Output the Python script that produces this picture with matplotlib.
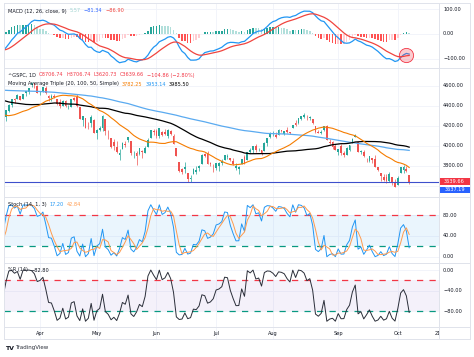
import numpy as np
import pandas as pd
import matplotlib
matplotlib.use("Agg")
import matplotlib.pyplot as plt
import matplotlib.transforms as mtransforms
from matplotlib.lines import Line2D
from matplotlib.patches import Rectangle

# ---- data: S&P 500 (^GSPC) daily ----
# warm-up closes, Oct 20 2021 .. Feb 18 2022 (only feed the moving averages / MACD)
pre_close = [
    4536.19, 4549.78, 4544.90, 4566.48, 4574.79, 4551.68, 4596.42, 4605.38,
    4613.67, 4630.65, 4660.57, 4680.06, 4697.53, 4701.70, 4685.25, 4646.71, 4649.27, 4682.85,
    4682.80, 4700.90, 4688.67, 4704.54, 4697.96, 4682.94, 4690.70, 4701.46, 4594.62, 4655.27, 4567.00,
    4513.04, 4577.10, 4538.43, 4591.67, 4686.75, 4701.21, 4667.45, 4712.02, 4668.97, 4634.09, 4709.85,
    4668.67, 4620.64, 4568.02, 4649.23, 4696.56, 4725.79, 4791.19, 4786.35, 4793.06, 4778.73, 4766.18,
    4796.56, 4793.54, 4700.58, 4696.05, 4677.03, 4670.29, 4713.07, 4726.35, 4659.03, 4662.85,
    4577.11, 4532.76, 4482.73, 4397.94, 4410.13, 4356.45, 4349.93, 4326.51, 4431.85, 4515.55,
    4546.54, 4589.38, 4477.44, 4500.53, 4483.87, 4521.54, 4587.18, 4504.08, 4418.64, 4401.67,
    4471.07, 4475.01, 4380.26, 4348.87,
]

# OHLC, Feb 22 2022 .. Oct 7 2022
opens = [
    4332.74, 4324.93, 4155.77, 4298.38, 4354.17,
    4363.14, 4322.56, 4401.31, 4342.12, 4327.01, 4202.66, 4223.10, 4252.55, 4279.50, 4202.75, 4188.82,
    4288.14, 4345.11, 4407.34, 4462.40, 4469.10, 4493.10, 4469.98, 4522.66, 4541.09, 4602.86, 4624.20, 4599.02,
    4540.32, 4547.97, 4572.45, 4494.17, 4474.65, 4494.15, 4462.64, 4437.59, 4394.30, 4449.12,
    4385.63, 4390.63, 4472.26, 4489.17, 4385.83, 4255.34, 4278.14, 4186.52, 4222.58, 4253.75,
    4130.61, 4159.78, 4181.18, 4270.43, 4128.17, 4081.27, 4035.18, 3990.08, 3903.95, 3963.90, 4013.02,
    4052.00, 4051.98, 3899.00, 3927.76, 3919.42, 3942.94, 3929.59, 3984.60, 4077.43, 4151.09,
    4149.78, 4095.41, 4137.57, 4134.72, 4096.47, 4147.12, 4101.65, 3974.39, 3838.15, 3763.52, 3764.05,
    3728.18, 3665.90, 3715.31, 3733.89, 3774.71, 3821.75, 3920.76, 3913.00, 3825.09, 3785.99,
    3781.00, 3792.61, 3831.98, 3858.85, 3888.26, 3880.94, 3851.95, 3779.67, 3763.99, 3818.00,
    3883.79, 3860.73, 3935.32, 3955.47, 3998.43, 3965.72, 3953.22, 3951.43, 4026.13, 4087.33,
    4112.38, 4104.21, 4107.96, 4154.85, 4115.87, 4155.93, 4133.11, 4181.02, 4227.40, 4225.02, 4269.37,
    4290.46, 4280.40, 4273.13, 4266.31, 4195.08, 4133.09, 4126.55, 4153.26, 4198.74, 4034.58, 4041.25, 4000.67,
    3936.73, 3994.66, 3930.89, 3909.43, 3959.94, 4022.94, 4083.67, 4037.12, 3940.73, 3932.41, 3880.95,
    3849.91, 3875.23, 3871.40, 3782.36, 3727.14, 3682.72, 3686.44, 3651.94, 3687.01, 3633.48,
    3609.78, 3726.46, 3753.25, 3771.97, 3706.74,
]
highs = [
    4362.12, 4341.51, 4294.73, 4385.34, 4388.84,
    4378.45, 4401.48, 4416.78, 4342.12, 4327.01, 4276.94, 4299.40, 4268.28, 4291.01, 4247.57, 4271.05,
    4358.90, 4412.67, 4465.40, 4481.75, 4522.00, 4501.07, 4520.58, 4546.03, 4575.65, 4637.30, 4627.77, 4603.07,
    4548.70, 4583.50, 4593.45, 4503.94, 4521.16, 4520.41, 4464.35, 4471.00, 4453.92, 4460.46,
    4410.31, 4471.03, 4488.29, 4512.94, 4385.83, 4299.02, 4278.14, 4240.71, 4308.45, 4269.68,
    4169.81, 4200.10, 4307.66, 4270.43, 4157.69, 4081.27, 4068.82, 4049.09, 3964.80, 4038.88, 4046.46,
    4090.72, 4051.98, 3945.96, 3943.42, 3981.88, 3955.68, 3999.33, 4075.14, 4158.49, 4168.34,
    4166.54, 4177.51, 4142.67, 4168.78, 4164.86, 4160.14, 4119.10, 3974.39, 3838.15, 3778.18, 3837.56,
    3728.18, 3707.71, 3779.65, 3801.79, 3802.58, 3913.65, 3927.72, 3945.86, 3836.50, 3818.99,
    3829.82, 3832.19, 3870.91, 3910.63, 3918.50, 3880.94, 3873.41, 3829.44, 3796.41, 3863.62,
    3902.44, 3939.81, 3974.13, 3999.29, 4012.44, 3975.30, 3953.22, 4039.56, 4078.95, 4140.15,
    4144.95, 4140.47, 4167.66, 4161.29, 4151.58, 4186.62, 4137.30, 4211.03, 4257.91, 4280.47, 4301.79,
    4325.28, 4302.18, 4292.53, 4266.31, 4195.08, 4159.77, 4156.56, 4200.54, 4203.04, 4062.99, 4044.98, 4015.37,
    3970.23, 4018.43, 3942.55, 3987.89, 4010.50, 4076.81, 4119.28, 4037.12, 3961.94, 3959.14, 3880.95,
    3900.45, 3876.01, 3907.07, 3790.68, 3727.14, 3715.67, 3717.53, 3736.74, 3687.01, 3671.44,
    3698.35, 3791.92, 3806.91, 3797.93, 3706.74,
]
lows = [
    4267.11, 4221.51, 4114.65, 4286.83, 4315.12,
    4279.54, 4322.56, 4345.56, 4284.98, 4199.85, 4157.87, 4223.10, 4209.80, 4200.49, 4161.72, 4187.90,
    4251.99, 4335.65, 4390.57, 4424.30, 4469.10, 4455.81, 4465.17, 4501.07, 4517.69, 4589.66, 4581.32, 4530.41,
    4507.57, 4539.21, 4514.17, 4450.04, 4450.30, 4474.60, 4408.38, 4381.34, 4392.70, 4390.77,
    4370.30, 4390.63, 4448.76, 4384.47, 4267.62, 4200.82, 4175.04, 4162.90, 4188.63, 4124.28,
    4062.51, 4147.08, 4148.91, 4106.01, 4067.91, 3975.48, 3958.17, 3928.82, 3858.87, 3963.90, 3983.99,
    4033.93, 3911.91, 3876.58, 3810.32, 3909.04, 3875.13, 3925.03, 3984.60, 4077.43, 4104.88,
    4073.85, 4074.37, 4098.67, 4109.18, 4080.19, 4107.20, 4017.17, 3900.16, 3734.30, 3715.31, 3722.30,
    3639.77, 3636.87, 3715.31, 3717.69, 3743.52, 3821.75, 3889.66, 3820.14, 3799.02, 3738.67,
    3752.10, 3742.06, 3809.37, 3858.85, 3869.34, 3847.22, 3802.36, 3759.07, 3721.56, 3817.18,
    3818.63, 3860.73, 3922.03, 3927.64, 3938.85, 3943.46, 3910.74, 3951.43, 3992.97, 4079.22,
    4096.02, 4079.81, 4107.96, 4135.42, 4107.31, 4128.97, 4112.09, 4177.26, 4201.41, 4219.78, 4256.90,
    4277.77, 4253.08, 4261.98, 4218.70, 4129.86, 4124.03, 4119.97, 4147.59, 4057.66, 4017.42, 3965.21, 3954.53,
    3903.65, 3906.21, 3886.75, 3906.03, 3944.81, 4022.94, 4083.67, 3932.41, 3912.77, 3888.28, 3837.08,
    3838.50, 3827.54, 3789.49, 3749.14, 3647.47, 3644.76, 3623.29, 3640.61, 3610.40, 3584.13,
    3604.93, 3726.46, 3722.66, 3739.22, 3620.73,
]
closes = [
    4304.76, 4225.50, 4288.70, 4384.65, 4373.94,
    4306.26, 4386.54, 4363.49, 4328.87, 4201.09, 4170.70, 4277.88, 4259.52, 4204.31, 4173.11, 4262.45,
    4357.86, 4411.67, 4463.12, 4461.18, 4511.61, 4456.24, 4520.16, 4543.06, 4575.52, 4631.60, 4602.45, 4530.41,
    4545.86, 4582.64, 4525.12, 4481.15, 4500.21, 4488.28, 4412.53, 4397.45, 4446.59, 4392.59,
    4391.69, 4462.21, 4459.45, 4393.66, 4271.78, 4296.12, 4175.20, 4183.96, 4287.50, 4131.93,
    4155.38, 4175.48, 4300.17, 4146.87, 4123.34, 3991.24, 4001.05, 3935.18, 3930.08, 4023.89, 4008.01,
    4088.85, 3923.68, 3900.79, 3901.36, 3973.75, 3941.48, 3978.73, 4057.84, 4158.24, 4132.15,
    4101.23, 4176.82, 4108.54, 4121.43, 4160.68, 4115.77, 4017.82, 3900.86, 3749.63, 3735.48, 3789.99,
    3666.77, 3674.84, 3764.79, 3759.89, 3795.73, 3911.74, 3900.11, 3821.55, 3818.83, 3785.38,
    3825.33, 3831.39, 3845.08, 3902.62, 3899.38, 3854.43, 3818.80, 3801.78, 3790.38, 3863.16,
    3830.85, 3936.69, 3959.90, 3998.95, 3961.63, 3966.84, 3921.05, 4023.61, 4072.43, 4130.29,
    4118.63, 4091.19, 4155.17, 4151.94, 4145.19, 4140.06, 4122.47, 4210.24, 4207.27, 4280.15, 4297.14,
    4305.20, 4274.04, 4283.74, 4228.48, 4137.99, 4128.73, 4140.77, 4199.12, 4057.66, 4030.61, 3986.16, 3955.00,
    3966.85, 3924.26, 3908.19, 3979.87, 4006.18, 4067.36, 4110.41, 3932.69, 3946.01, 3901.35, 3873.33,
    3899.89, 3855.93, 3789.93, 3757.99, 3693.23, 3655.04, 3647.29, 3719.04, 3640.47, 3585.62,
    3678.43, 3790.93, 3783.28, 3744.52, 3639.66,
]
holidays = ["2022-04-15", "2022-05-30", "2022-06-20", "2022-07-04", "2022-09-05"]
dates = pd.bdate_range("2022-02-22", "2022-10-07", freq="C", holidays=holidays)
hline_level = 3637.19
n_show = 144
month_names = ["Apr", "May", "Jun", "Jul", "Aug", "Sep", "Oct", "21"]

# ---- indicators ----
c_all = pd.Series(pre_close + closes)
ma20 = c_all.rolling(20).mean().values[-n_show:]
ma50 = c_all.rolling(50).mean().values[-n_show:]
ma100 = c_all.rolling(100).mean().values[-n_show:]
ema12 = c_all.ewm(span=12, adjust=False).mean()
ema26 = c_all.ewm(span=26, adjust=False).mean()
macd_all = ema12 - ema26
sig_all = macd_all.ewm(span=9, adjust=False).mean()
macd = macd_all.values[-n_show:]
sig = sig_all.values[-n_show:]
hist = (macd_all - sig_all).values[-n_show - 1:]

hi, lo, cl = pd.Series(highs), pd.Series(lows), pd.Series(closes)
hh, ll = hi.rolling(14).max(), lo.rolling(14).min()
k_all = 100 * (cl - ll) / (hh - ll)
stk = k_all.values[-n_show:]
std = k_all.rolling(3).mean().values[-n_show:]
wr = (100 * (cl - hh) / (hh - ll)).values[-n_show:]

o = np.array(opens[-n_show:]); h = np.array(highs[-n_show:])
l = np.array(lows[-n_show:]); c = np.array(closes[-n_show:])
d = dates[-n_show:]
x = np.arange(n_show)
month_idx = [int(np.argmax((d.month == m) & (d.day <= 7))) for m in range(4, 11)]
month_idx.append(n_show - 1 + len(pd.bdate_range("2022-10-10", "2022-10-21")))

# ---- style ----
W, H = 474, 357
FS = 3.6
TXT = "#131722"
GRID = "#f0f3fa"
SEP = "#e0e3eb"
UP, DOWN = "#26a69a", "#ef5350"
RED, GREEN = "#f23645", "#089981"
BLUE = "#2196f3"
PL, PR, FR = 4, 439, 470
XL = (0.3, 153.5)

fig = plt.figure(figsize=(W / 100, H / 100), dpi=100)
fig.patch.set_facecolor("white")


def add_panel(top, bottom, ylim):
    ax = fig.add_axes([PL / W, 1 - bottom / H, (PR - PL) / W, (bottom - top) / H])
    ax.set_xlim(XL)
    ax.set_ylim(ylim)
    ax.set_xticks([])
    ax.set_yticks([])
    for s in ax.spines.values():
        s.set_visible(False)
    ax.set_facecolor("none")
    for mi in month_idx[:-1]:
        ax.axvline(mi, color=GRID, lw=0.6, zorder=0)
    return ax


def fmt(v):
    return f"{v:.2f}".replace("-", "\u2212")


def right_labels(ax, vals, shown=None):
    tr = mtransforms.blended_transform_factory(ax.transAxes, ax.transData)
    for v in vals:
        ax.axhline(v, color=GRID, lw=0.6, zorder=0)
        if shown is None or v in shown:
            ax.text(1 + 4 / (PR - PL), v, fmt(v), transform=tr, fontsize=FS,
                    color=TXT, va="center", ha="left", clip_on=False)


ax_macd = add_panel(3, 68, (-137.7, 125.5))
ax_p = add_panel(68, 197, (3487, 4777))
ax_s = add_panel(197, 263, (-12.1, 114.8))
ax_w = add_panel(263, 327, (-111.2, 13.7))
ax_x = add_panel(327, 339, (0, 1))

# MACD
right_labels(ax_macd, [100, 0, -100])
hcols = []
for i in range(1, len(hist)):
    if hist[i] >= 0:
        hcols.append("#26a69a" if hist[i] > hist[i - 1] else "#b2dfdb")
    else:
        hcols.append("#ffcdd2" if hist[i] > hist[i - 1] else "#ff5252")
ax_macd.bar(x, hist[1:], width=0.55, color=hcols, zorder=2)
ax_macd.plot(x, macd, color=BLUE, lw=0.9, zorder=3)
ax_macd.plot(x, sig, color="#f0443e", lw=0.9, zorder=3)
ax_macd.scatter([x[-2]], [(macd[-2] + sig[-2]) / 2], s=105, facecolor=(0.95, 0.21, 0.27, 0.25),
                edgecolor=RED, lw=0.6, zorder=4)

# price
right_labels(ax_p, [3600, 3800, 4000, 4200, 4400, 4600], shown=[3800, 4000, 4200, 4400, 4600])
cols = np.where(c >= o, UP, DOWN)
ax_p.vlines(x, l, h, colors=cols, lw=0.5, zorder=3)
ax_p.bar(x, np.maximum(np.abs(c - o), 2.0), bottom=np.minimum(o, c), width=0.62, color=cols, zorder=3)
ax_p.plot(x, ma100, color="#5aaaf0", lw=0.9, zorder=4)
ax_p.plot(x, ma50, color="#000000", lw=0.9, zorder=4)
ax_p.plot(x, ma20, color="#f57c00", lw=0.8, zorder=4)
ax_p.axhline(hline_level, color="#3d4fcc", lw=0.8, zorder=4)

# stochastic
right_labels(ax_s, [80, 40, 0])
ax_s.axhspan(20, 80, color="#2196f3", alpha=0.09, lw=0, zorder=1)
ax_s.axhline(80, color=RED, lw=0.9, ls=(0, (5, 5)), zorder=2)
ax_s.axhline(20, color=GREEN, lw=0.9, ls=(0, (5, 5)), zorder=2)
ax_s.plot(x, stk, color=BLUE, lw=0.7, zorder=3)
ax_s.plot(x, std, color="#ff9a4d", lw=0.7, zorder=3)

# williams %R
right_labels(ax_w, [0, -40, -80])
ax_w.axhspan(-80, -20, color="#7e57c2", alpha=0.08, lw=0, zorder=1)
ax_w.axhline(-20, color=RED, lw=0.9, ls=(0, (5, 5)), zorder=2)
ax_w.axhline(-80, color=GREEN, lw=0.9, ls=(0, (5, 5)), zorder=2)
ax_w.plot(x, wr, color="#2a2e39", lw=0.7, zorder=3)

# x axis strip
for mi, name in zip(month_idx, month_names):
    ax_x.text(mi, 0.45, name, fontsize=FS, color=TXT, ha="center", va="center", clip_on=True)

# frame and separators
def fline(x0, y0, x1, y1):
    fig.add_artist(Line2D([x0 / W, x1 / W], [1 - y0 / H, 1 - y1 / H], color=SEP, lw=0.7))


fline(PL, 3, FR, 3)
fline(PL, 339, FR, 339)
fline(PL, 3, PL, 339)
fline(FR, 3, FR, 339)
fline(PR, 3, PR, 339)
for yy in (68, 197, 263, 327):
    fline(PL, yy, FR, yy)

# price tags on the right scale
def price_tag(ax, value, dy_px, fc, label):
    yd = ax.transData.transform((0, value))[1] - dy_px
    fig.add_artist(Rectangle((PR / W, (yd - 3.3) / H), (FR - PR) / W, 6.6 / H,
                             transform=fig.transFigure, fc=fc, ec="none"))
    fig.text((PR + FR) / 2 / W, yd / H, label, color="white", fontsize=FS,
             ha="center", va="center")


price_tag(ax_p, c[-1], 0, RED, fmt(c[-1]))
price_tag(ax_p, hline_level, 8, "#2962ff", fmt(hline_level))

# legends
renderer = fig.canvas.get_renderer()


def legend(y_px, runs, x_px=8):
    xx = x_px
    for s, col in runs:
        t = fig.text(xx / W, 1 - y_px / H, s, color=col, fontsize=FS, ha="left", va="center")
        xx += t.get_window_extent(renderer).width + 3


chg = c[-1] - c[-2]
legend(11, [("MACD (12, 26, close, 9)", TXT), (fmt(hist[-1]), "#9fd3cf"),
            (fmt(macd[-1]), "#2962ff"), (fmt(sig[-1]), "#f0443e")])
legend(75, [("^GSPC, 1D", TXT), (f"O{o[-1]:.2f}", RED), (f"H{h[-1]:.2f}", RED),
            (f"L{l[-1]:.2f}", RED), (f"C{c[-1]:.2f}", RED),
            (f"{fmt(chg)} ({fmt(100 * chg / c[-2])}%)", RED)])
legend(84, [("Moving Average Triple (20, 100, 50, Simple)", TXT), (fmt(ma20[-1]), "#f57c00"),
            (fmt(ma100[-1]), "#2196f3"), (fmt(ma50[-1]), "#000000")])
legend(205, [("Stoch (14, 1, 3)", TXT), (fmt(stk[-1]), "#2196f3"), (fmt(std[-1]), "#ff9a4d")])
legend(270, [("%R (14)", TXT), (fmt(wr[-1]), TXT)])

# logo
fig.text(5 / W, 1 - 348 / H, "TV", fontsize=4.5, fontweight="bold", color="#131722", va="center")
fig.text(15 / W, 1 - 348 / H, "TradingView", fontsize=4, color="#2a2e39", va="center")

fig.savefig("out.png", dpi=100, facecolor="white")
